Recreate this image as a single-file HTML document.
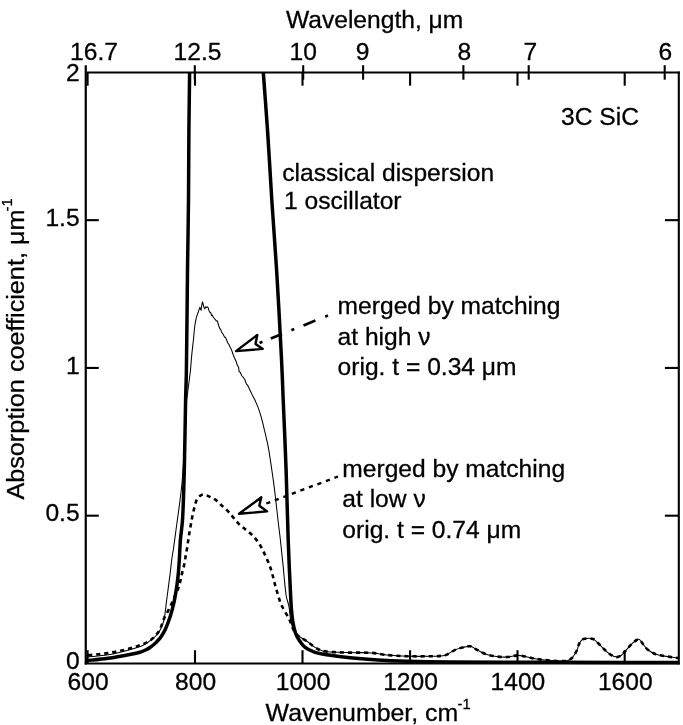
<!DOCTYPE html>
<html lang="en">
<head>
<meta charset="utf-8">
<title>3C SiC absorption coefficient</title>
<style>html,body{margin:0;padding:0;background:#fff}svg{display:block}</style>
</head>
<body>
<svg width="683" height="725" viewBox="0 0 683 725">
<rect width="683" height="725" fill="#fff"/>
<defs><clipPath id="plot"><rect x="85.8" y="72.4" width="593.0" height="592.6"/></clipPath></defs>
<g clip-path="url(#plot)" fill="none" stroke="#000" stroke-linejoin="round">
<path d="M80.0 661.3 C82.2 661.1 84.3 660.9 86.5 660.7 C93.7 659.9 100.9 659.2 108.0 658.2 C114.4 657.3 120.7 656.1 127.1 655.0 C130.1 654.5 133.1 654.0 136.0 653.3 C137.7 652.9 139.4 652.5 141.0 651.9 C142.7 651.3 144.5 650.6 146.1 649.8 C147.5 649.1 148.8 648.4 150.0 647.5 C151.3 646.6 152.6 645.5 153.8 644.5 C154.9 643.5 156.0 642.6 157.0 641.5 C158.3 640.1 159.6 638.8 160.7 637.2 C162.5 634.6 164.2 631.9 165.5 629.0 C167.5 624.5 169.1 619.9 170.6 615.2 C172.0 610.7 173.2 606.0 174.2 601.4 C175.2 596.8 175.9 592.2 176.6 587.6 C177.3 583.0 177.8 578.4 178.3 573.8 C178.7 569.2 179.0 564.6 179.3 560.0 C179.7 553.3 179.9 546.7 180.4 540.0 C181.0 532.9 182.2 525.8 182.6 518.6 C183.5 502.4 183.9 486.2 184.3 470.0 C184.9 446.7 185.1 423.3 185.6 400.0 C185.8 390.0 186.3 380.0 186.4 370.0 C186.9 336.7 187.1 303.3 187.5 270.0 C187.8 246.7 188.3 223.3 188.5 200.0 C188.7 176.7 188.7 153.3 188.9 130.0 C189.1 110.8 189.4 91.7 189.6 72.5 C189.8 60.0 189.9 47.5 190.1 35.0" stroke-width="3.5"/>
<path d="M260.6 35.0 C261.5 47.5 262.4 60.0 263.3 72.5 C264.7 91.7 266.2 110.8 267.5 130.0 C269.1 153.3 270.3 176.7 271.8 200.0 C273.3 223.3 275.2 246.7 276.6 270.0 C278.3 298.3 279.9 326.7 281.3 355.0 C282.1 370.0 282.6 385.0 283.2 400.0 C284.2 423.3 285.3 446.7 286.1 470.0 C286.9 493.3 287.4 516.7 288.2 540.0 C288.5 549.2 288.9 558.4 289.3 567.6 C289.7 576.8 290.1 586.0 290.6 595.2 C290.8 599.8 291.0 604.4 291.4 609.0 C291.8 613.6 292.2 618.2 293.0 622.8 C293.6 626.3 294.4 629.9 295.6 633.3 C296.6 635.9 297.9 638.5 299.5 640.8 C301.1 643.2 302.8 645.7 305.1 647.4 C307.8 649.5 311.2 651.0 314.5 652.1 C319.0 653.6 323.9 654.3 328.6 655.0 C335.7 656.1 342.8 657.0 350.0 657.7 C359.2 658.6 368.5 659.4 377.8 660.0 C387.5 660.6 397.3 661.0 407.0 661.3 C421.3 661.7 435.7 661.9 450.0 662.0 C486.7 662.2 523.3 662.2 560.0 662.3 C601.7 662.4 643.3 662.4 685.0 662.5" stroke-width="3.5"/>
<path d="M80.0 657.5 C82.2 657.3 84.3 657.2 86.5 657.0 C93.7 656.3 100.9 656.0 108.0 654.8 C114.4 653.8 120.8 652.1 127.1 650.4 C132.4 649.0 137.8 647.7 142.8 645.5 C145.8 644.2 148.4 642.0 151.0 640.0 C153.2 638.3 155.4 636.6 157.2 634.5 C158.6 632.9 159.7 630.9 160.7 629.0 C161.8 626.8 162.7 624.4 163.4 622.0 C164.1 619.8 164.5 617.5 164.8 615.2 C165.5 610.6 165.9 606.0 166.5 601.4 C167.1 596.8 167.7 592.2 168.3 587.6 C168.9 583.0 169.5 578.4 170.1 573.8 C170.7 569.2 171.1 564.6 171.7 560.0 C172.2 555.9 173.0 551.9 173.6 547.8 C174.4 541.9 175.2 535.9 176.0 530.0 C178.0 515.0 180.3 500.0 181.8 485.0 C183.3 470.0 184.0 455.0 184.8 440.0 C185.4 428.3 185.4 416.7 186.0 405.0 C186.1 402.7 186.6 400.3 186.9 398.0 C188.1 388.7 189.4 379.3 190.5 370.0 C191.0 365.2 191.2 360.4 191.7 355.6 C192.2 350.1 192.9 344.7 193.5 339.2 C193.9 335.3 194.1 331.4 194.6 327.5 C195.0 324.3 195.5 321.2 196.2 318.1 C196.7 316.1 197.5 314.2 198.2 312.3 L199.0 309.6 L199.9 307.6 L200.5 309.2 L201.1 309.9 L201.7 305.5 L202.5 301.7 L203.2 304.5 L204.0 307.6 L204.8 308.7 L205.6 307.0 L206.4 307.3 L207.3 306.8 L208.1 307.6 L208.9 310.4 L209.9 312.3 L210.9 313.0 L211.6 315.4 L212.2 315.2 L213.6 317.8 L215.1 319.3 L216.3 320.9 L217.5 321.0 L218.3 324.5 L219.8 328.7 L220.6 329.2 L221.5 332.0 L223.3 334.5 L224.6 337.3 L225.4 337.2 L226.3 339.2 L227.6 342.4 L229.2 345.1 L230.4 347.8 L231.5 349.7 L232.6 353.0 L233.3 355.0 L234.5 358.0 L236.2 361.5 L237.3 365.2 L238.6 367.3 L239.1 371.6 L240.3 372.4 L241.6 375.5 L243.0 377.0 L244.9 379.8 L246.2 383.5 L247.8 385.6 L249.8 389.8 L252.0 394.4 L254.8 399.7 L254.8 399.7 C256.2 403.0 257.7 406.2 258.9 409.6 C260.2 413.4 261.3 417.3 262.3 421.2 C263.1 424.1 263.7 427.1 264.4 430.0 C265.7 435.5 267.1 441.0 268.2 446.6 C269.4 453.2 270.3 459.8 271.3 466.4 C272.2 472.5 273.1 478.5 273.9 484.6 C274.6 489.6 275.1 494.5 275.7 499.5 C276.5 506.7 277.3 513.8 278.1 521.0 C278.8 527.3 279.7 533.7 280.4 540.0 C281.4 549.2 282.3 558.4 283.3 567.6 C284.2 576.8 284.8 586.1 286.1 595.2 C286.6 598.9 288.2 602.5 288.9 606.2 C289.9 611.4 289.8 616.8 291.0 622.0 C291.9 625.8 293.2 629.7 295.0 633.0 C295.8 634.4 297.3 635.4 298.7 636.3 C301.3 638.1 304.3 639.5 306.9 641.3 C309.7 643.2 312.2 645.6 315.1 647.4 C317.5 648.8 320.0 650.2 322.7 650.9 C326.5 651.8 330.5 651.9 334.4 652.1 C339.6 652.4 344.8 652.5 350.0 652.6 C357.3 652.8 364.7 652.4 372.0 652.9 C376.9 653.2 381.7 654.5 386.6 655.0 C393.4 655.6 400.3 656.0 407.1 656.2 C414.9 656.4 422.8 656.4 430.6 656.2 C435.5 656.1 440.6 656.4 445.2 655.2 C448.6 654.3 451.4 651.5 454.7 650.1 C457.2 649.0 459.8 648.2 462.4 647.6 C465.0 647.0 467.9 645.9 470.4 646.3 C472.9 646.7 475.2 648.9 477.6 650.1 C480.1 651.4 482.5 653.0 485.2 653.9 C488.2 655.0 491.5 655.7 494.7 656.2 C498.5 656.8 502.3 657.2 506.1 657.1 C509.9 657.0 513.8 655.5 517.6 655.4 C520.1 655.3 522.7 656.0 525.2 656.5 C529.0 657.2 532.8 658.4 536.6 659.0 C540.4 659.6 544.2 660.0 548.0 660.3 C552.0 660.6 556.0 660.9 560.0 661.0 C562.1 661.1 564.3 661.4 566.3 660.9 C568.3 660.4 570.5 659.4 572.0 658.0 C574.0 656.0 575.5 653.1 576.8 650.5 C578.0 648.1 578.3 645.1 579.6 642.8 C580.5 641.3 581.9 639.5 583.5 639.0 C586.3 638.2 590.2 638.1 593.0 639.0 C595.2 639.7 596.9 642.1 598.7 643.8 C600.7 645.6 602.4 647.7 604.4 649.5 C606.2 651.2 608.0 653.0 610.1 654.3 C612.1 655.6 614.6 656.9 616.8 657.1 C618.4 657.2 620.1 656.1 621.5 655.2 C622.9 654.2 623.8 652.7 625.0 651.4 C627.0 649.2 628.9 646.8 631.0 644.7 C632.8 643.0 634.6 641.2 636.7 640.0 C637.5 639.5 638.9 639.1 639.6 639.6 C641.1 640.7 642.1 643.1 643.4 644.7 C644.9 646.5 646.3 648.6 648.2 650.0 C650.5 651.8 653.1 653.4 655.8 654.3 C659.4 655.5 663.4 655.9 667.2 656.5 C670.7 657.1 674.2 657.6 677.7 658.0 C680.1 658.3 682.6 658.4 685.0 658.6" stroke-width="1.05" stroke-linejoin="miter"/>
<path d="M80.0 655.9 C82.2 655.7 84.3 655.6 86.5 655.4 C93.7 654.7 100.9 654.2 108.0 653.1 C114.4 652.1 120.8 650.8 127.1 649.2 C132.9 647.7 138.6 645.9 144.1 643.7 C146.8 642.6 149.5 641.1 151.7 639.3 C154.3 637.1 156.7 634.5 158.6 631.7 C160.2 629.4 161.0 626.7 162.1 624.1 C163.1 621.6 163.7 619.0 164.8 616.6 C165.5 615.1 166.5 613.8 167.3 612.4 C168.7 609.7 170.1 606.9 171.4 604.1 C172.8 601.1 174.0 598.0 175.3 595.0 C176.3 592.8 177.5 590.6 178.3 588.3 C179.3 585.4 180.0 582.3 180.7 579.3 C181.4 576.5 181.9 573.8 182.6 571.0 C183.2 568.4 184.0 565.9 184.5 563.3 C185.0 560.6 185.3 557.9 185.8 555.2 C186.3 552.3 186.9 549.4 187.4 546.5 C187.8 544.0 188.0 541.5 188.4 539.0 C188.8 536.5 189.2 534.1 189.6 531.6 C190.2 528.3 190.8 524.9 191.4 521.6 C191.8 519.3 192.2 517.1 192.7 514.8 C193.3 511.9 194.0 509.0 194.8 506.1 C195.5 503.6 196.0 500.8 197.3 498.7 C198.3 497.1 200.1 495.7 201.7 494.9 C202.8 494.4 204.2 494.6 205.4 494.9 C207.7 495.6 210.0 496.9 212.2 498.0 C214.0 498.9 215.7 499.9 217.3 501.1 C218.8 502.3 220.0 503.9 221.4 505.2 C223.1 506.8 225.0 508.2 226.7 509.9 C228.6 511.8 230.3 513.8 232.0 515.8 C234.0 518.1 235.7 520.6 237.8 522.8 C239.6 524.7 241.7 526.4 243.7 528.1 C245.6 529.7 247.7 531.1 249.6 532.8 C251.6 534.6 253.7 536.5 255.4 538.6 C257.4 541.0 259.1 543.6 260.7 546.2 C262.3 548.8 263.5 551.6 264.8 554.4 C266.1 557.1 267.4 559.9 268.5 562.7 C269.5 565.3 270.5 567.9 271.3 570.5 C272.2 573.4 272.9 576.4 273.7 579.3 C274.4 582.1 275.0 584.9 275.8 587.6 C276.6 590.4 277.4 593.1 278.3 595.9 C279.2 598.6 279.9 601.5 281.0 604.1 C282.2 607.0 283.9 609.6 285.4 612.4 C286.8 614.9 288.4 617.4 289.6 620.0 C291.1 623.3 292.0 626.9 293.7 630.0 C295.0 632.3 296.7 634.6 298.7 636.3 C301.1 638.3 304.3 639.5 306.9 641.3 C309.7 643.2 312.2 645.6 315.1 647.4 C317.5 648.8 320.0 650.2 322.7 650.9 C326.5 651.8 330.5 651.9 334.4 652.1 C339.6 652.4 344.8 652.5 350.0 652.6 C357.3 652.8 364.7 652.4 372.0 652.9 C376.9 653.2 381.7 654.5 386.6 655.0 C393.4 655.6 400.3 656.0 407.1 656.2 C414.9 656.4 422.8 656.4 430.6 656.2 C435.5 656.1 440.6 656.4 445.2 655.2 C448.6 654.3 451.4 651.5 454.7 650.1 C457.2 649.0 459.8 648.2 462.4 647.6 C465.0 647.0 467.9 645.9 470.4 646.3 C472.9 646.7 475.2 648.9 477.6 650.1 C480.1 651.4 482.5 653.0 485.2 653.9 C488.2 655.0 491.5 655.7 494.7 656.2 C498.5 656.8 502.3 657.2 506.1 657.1 C509.9 657.0 513.8 655.5 517.6 655.4 C520.1 655.3 522.7 656.0 525.2 656.5 C529.0 657.2 532.8 658.4 536.6 659.0 C540.4 659.6 544.2 660.0 548.0 660.3 C552.0 660.6 556.0 660.9 560.0 661.0 C562.1 661.1 564.3 661.4 566.3 660.9 C568.3 660.4 570.5 659.4 572.0 658.0 C574.0 656.0 575.5 653.1 576.8 650.5 C578.0 648.1 578.3 645.1 579.6 642.8 C580.5 641.3 581.9 639.5 583.5 639.0 C586.3 638.2 590.2 638.1 593.0 639.0 C595.2 639.7 596.9 642.1 598.7 643.8 C600.7 645.6 602.4 647.7 604.4 649.5 C606.2 651.2 608.0 653.0 610.1 654.3 C612.1 655.6 614.6 656.9 616.8 657.1 C618.4 657.2 620.1 656.1 621.5 655.2 C622.9 654.2 623.8 652.7 625.0 651.4 C627.0 649.2 628.9 646.8 631.0 644.7 C632.8 643.0 634.6 641.2 636.7 640.0 C637.5 639.5 638.9 639.1 639.6 639.6 C641.1 640.7 642.1 643.1 643.4 644.7 C644.9 646.5 646.3 648.6 648.2 650.0 C650.5 651.8 653.1 653.4 655.8 654.3 C659.4 655.5 663.4 655.9 667.2 656.5 C670.7 657.1 674.2 657.6 677.7 658.0 C680.1 658.3 682.6 658.4 685.0 658.6" stroke-width="2.6" stroke-dasharray="4.2 3.9"/>
</g>
<g stroke="#000" stroke-width="1.9" fill="none" stroke-linecap="butt">
<path d="M85.75 65.2 V664.5" stroke-width="2.2"/>
<path d="M86.5 72.40 H679.7" stroke-width="2.0"/>
<path d="M84.7 663.45 H679.6" stroke-width="2.0"/>
<path d="M678.8 71.4 V664.5" stroke-width="2.1"/>
</g>
<g stroke="#000" stroke-width="2.1" fill="none" stroke-linecap="butt">
<path d="M87.6 663.5 V650.2"/>
<path d="M87.6 72.4 V85.7"/>
<path d="M195.0 663.5 V650.2"/>
<path d="M195.0 72.4 V85.7"/>
<path d="M302.5 663.5 V650.2"/>
<path d="M302.5 72.4 V85.7"/>
<path d="M410.1 663.5 V650.2"/>
<path d="M410.1 72.4 V85.7"/>
<path d="M517.5 663.5 V650.2"/>
<path d="M517.5 72.4 V85.7"/>
<path d="M624.7 663.5 V650.2"/>
<path d="M624.7 72.4 V85.7"/>
<path d="M194.8 65.2 V79.7"/>
<path d="M303.2 65.2 V79.7"/>
<path d="M363.1 65.2 V79.7"/>
<path d="M463.4 65.2 V79.7"/>
<path d="M528.7 65.2 V79.7"/>
<path d="M664.7 65.2 V79.7"/>
<path d="M85.8 515.69 H98.8"/>
<path d="M678.7 515.69 H664.9"/>
<path d="M85.8 367.93 H98.8"/>
<path d="M678.7 367.93 H664.9"/>
<path d="M85.8 220.16 H98.8"/>
<path d="M678.7 220.16 H664.9"/>
</g>
<g stroke="#000" fill="#fff" stroke-width="2.4" stroke-linejoin="round">
<path d="M236.0 351.1 L257.3 334.9 L255.5 343.9 L262.8 348.9 Z"/>
<path d="M239.0 513.8 L261.3 497.3 L259.3 505.8 L267.1 511.4 Z"/>
</g>
<g stroke="#000" fill="none" stroke-width="2.7">
<path d="M259.6 342.9 L262.4 341.7 M270.8 338.4 L282.0 333.9 M291.4 330.2 L294.2 329.1 M303.5 325.4 L315.4 320.6 M325.2 316.7 L328.0 315.6"/>
<path d="M266.3 503.5 L338.0 476.5" stroke-width="2.4" stroke-dasharray="4.2 4.9"/>
</g>
<g font-family="'Liberation Sans', Arial, Helvetica, sans-serif" font-size="24.6" fill="#000" stroke="#000" stroke-width="0.3">
<text x="374.6" y="28.2" text-anchor="middle">Wavelength, μm</text>
<text x="94.0" y="59.8" text-anchor="middle">16.7</text>
<text x="197.5" y="59.8" text-anchor="middle">12.5</text>
<text x="303.2" y="59.8" text-anchor="middle">10</text>
<text x="362.6" y="59.8" text-anchor="middle">9</text>
<text x="464.4" y="59.8" text-anchor="middle">8</text>
<text x="530.4" y="59.8" text-anchor="middle">7</text>
<text x="665.3" y="59.8" text-anchor="middle">6</text>
<text x="88.1" y="690.3" text-anchor="middle">600</text>
<text x="195.6" y="690.3" text-anchor="middle">800</text>
<text x="303.1" y="690.3" text-anchor="middle">1000</text>
<text x="410.5" y="690.3" text-anchor="middle">1200</text>
<text x="517.9" y="690.3" text-anchor="middle">1400</text>
<text x="625.3" y="690.3" text-anchor="middle">1600</text>
<text transform="translate(265.6 721.3) scale(1.012 1)">Wavenumber, cm</text>
<text x="457.6" y="708.8" font-size="14.7">-1</text>
<text x="79.6" y="80.5" text-anchor="end">2</text>
<text x="79.6" y="226.3" text-anchor="end">1.5</text>
<text x="79.6" y="373.8" text-anchor="end">1</text>
<text x="79.6" y="521.0" text-anchor="end">0.5</text>
<text x="79.6" y="668.7" text-anchor="end">0</text>
<text transform="translate(24.2 499.6) rotate(-90) scale(1.025 0.975)">Absorption coefficient, μm</text>
<text transform="translate(11.8 211.4) rotate(-90)" font-size="14.7">-1</text>
<text x="561.0" y="124.8">3C SiC</text>
<text x="282.2" y="181.3">classical dispersion</text>
<text x="284.0" y="208.5">1 oscillator</text>
<text x="337.6" y="313.8">merged by matching</text>
<text x="337.6" y="344.6">at high ν</text>
<text x="337.6" y="375.1">orig. t = 0.34 μm</text>
<text x="342.3" y="476.7">merged by matching</text>
<text x="342.3" y="507.3">at low ν</text>
<text x="342.3" y="537.8">orig. t = 0.74 μm</text>
</g>
</svg>
</body>
</html>
